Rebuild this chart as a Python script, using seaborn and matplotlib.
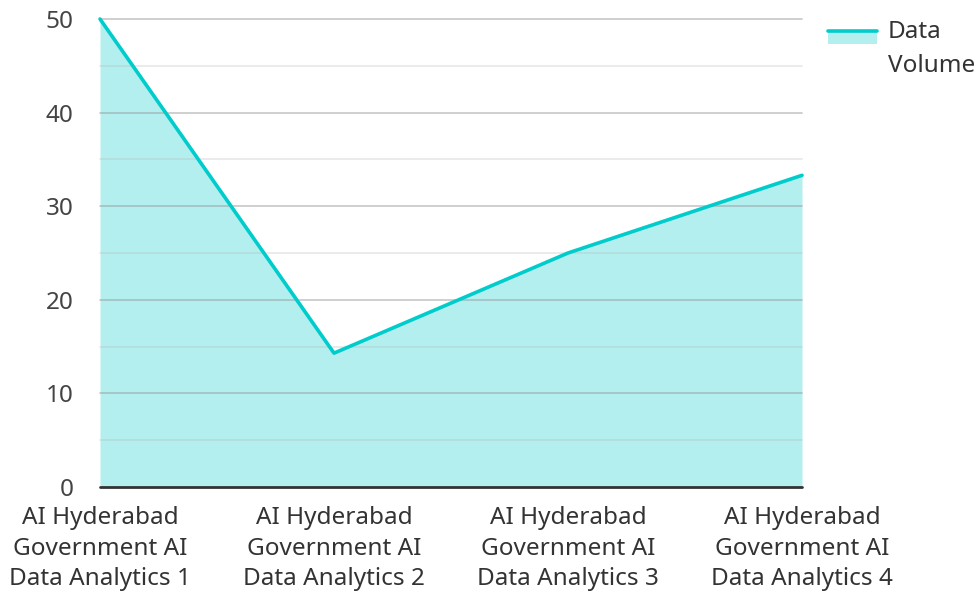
import matplotlib
matplotlib.use("Agg")
import matplotlib.pyplot as plt
import seaborn as sns
import pandas as pd
import numpy as np
from matplotlib.lines import Line2D
from matplotlib.patches import Rectangle
from matplotlib.legend_handler import HandlerBase

categories = [
    "AI Hyderabad\nGovernment AI\nData Analytics 1",
    "AI Hyderabad\nGovernment AI\nData Analytics 2",
    "AI Hyderabad\nGovernment AI\nData Analytics 3",
    "AI Hyderabad\nGovernment AI\nData Analytics 4",
]
data_volume = [50, 14.3, 25, 33.3]
series_name = "Data\nVolume"
y_ticks = [0, 10, 20, 30, 40, 50]

sns.set_theme(style="white")
plt.rcParams["font.family"] = ["Noto Sans", "DejaVu Sans"]

FS = 17.5

df = pd.DataFrame({"x": np.arange(len(categories)), "y": data_volume})

fig = plt.figure(figsize=(9.76, 5.92), dpi=100)
ax = fig.add_axes([100 / 976, 1 - 487 / 592, 702 / 976, 468 / 592])

line_color = "#00CCCC"
fill_color = "#B2EFEE"

ax.fill_between(df["x"], 0, df["y"], color=fill_color, linewidth=0, zorder=1)
sns.lineplot(data=df, x="x", y="y", ax=ax, color=line_color, linewidth=2.6, zorder=3)

ax.set_xlim(0, len(categories) - 1)
ax.set_ylim(0, 50)
ax.set_yticks(y_ticks)
ax.set_xticks(df["x"])
ax.set_xticklabels(categories, linespacing=1.36)
ax.set_xlabel("")
ax.set_ylabel("")

# gridlines drawn over fill
for v in y_ticks[1:]:
    ax.axhline(v, color="#999999", alpha=0.55, linewidth=1.2, zorder=2)
for v in np.arange(5, 50, 10):
    ax.axhline(v, color="#bbbbbb", alpha=0.35, linewidth=1.2, zorder=2)
ax.axhline(0, color="#333333", linewidth=2, zorder=4)

for s in ["top", "right", "left", "bottom"]:
    ax.spines[s].set_visible(False)

ax.tick_params(axis="y", which="both", length=0, pad=19, labelsize=FS, labelcolor="#444444")
ax.tick_params(axis="x", length=0, pad=14, labelsize=FS, labelcolor="#333333")
for l in ax.lines:
    l.set_clip_on(False)


class AreaHandler(HandlerBase):
    def create_artists(self, legend, orig_handle, xdescent, ydescent, width, height, fontsize, trans):
        top = height + 0.4 * fontsize
        rect = Rectangle((-xdescent, -ydescent + top - 9), width, 9,
                         facecolor=fill_color, edgecolor="none", transform=trans)
        ln = Line2D([-xdescent, -xdescent + width], [-ydescent + top, -ydescent + top],
                    color=line_color, linewidth=2.6, transform=trans)
        return [rect, ln]


handle = Rectangle((0, 0), 1, 1)
leg = fig.legend([handle], [series_name], handler_map={Rectangle: AreaHandler()},
                 loc="upper left", bbox_to_anchor=(828 / 976, 1 - 20 / 592),
                 frameon=False, fontsize=FS, handlelength=2.0, handletextpad=0.45,
                 borderaxespad=0, borderpad=0)
for t in leg.get_texts():
    t.set_color("#333333")
    t.set_linespacing(1.55)

fig.savefig("out.png", dpi=100)
